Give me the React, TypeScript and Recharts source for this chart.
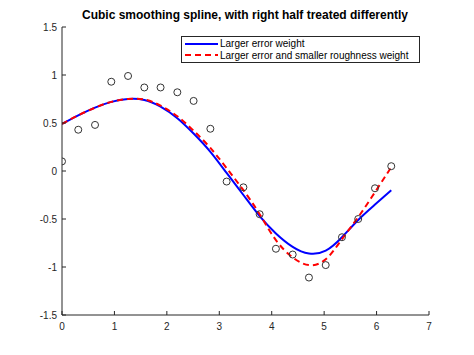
import { ComposedChart, XAxis, YAxis, Scatter, Line } from 'recharts';

// sample positions (0 .. 2*pi in 20 steps)
const sampleX = [0, 0.31, 0.63, 0.94, 1.26, 1.57, 1.88, 2.2, 2.51, 2.83, 3.14, 3.46, 3.77, 4.08, 4.4, 4.71, 5.03, 5.34, 5.65, 5.97, 6.28];
// noisy measurements (circles)
const measured = [0.1, 0.43, 0.48, 0.93, 0.99, 0.87, 0.87, 0.82, 0.73, 0.44, -0.11, -0.17, -0.45, -0.81, -0.87, -1.11, -0.98, -0.69, -0.5, -0.18, 0.05];
// fit with larger error weight (blue)
const errorWeightFit = [0.49, 0.58, 0.66, 0.72, 0.75, 0.74, 0.67, 0.55, 0.39, 0.2, -0.02, -0.25, -0.47, -0.65, -0.79, -0.86, -0.83, -0.69, -0.51, -0.35, -0.2];
// fit with larger error weight and smaller roughness weight (red dashed)
const roughnessFit = [0.49, 0.58, 0.66, 0.72, 0.75, 0.745, 0.68, 0.57, 0.42, 0.24, 0.03, -0.2, -0.45, -0.72, -0.9, -0.98, -0.92, -0.71, -0.48, -0.22, 0.04];

const xTicks = [0, 1, 2, 3, 4, 5, 6, 7];
const yTicks = [-1.5, -1, -0.5, 0, 0.5, 1, 1.5];

const axisColor = '#262626';
const font = '"Liberation Sans", Arial, sans-serif';

const rows = sampleX.map((x, i) => ({
    x,
    measured: measured[i],
    errorWeightFit: errorWeightFit[i],
    roughnessFit: roughnessFit[i]
}));

const XTick = ({ x, y, payload }: any) => (
    <g>
        <line x1={x} x2={x} y1={y} y2={y - 4} stroke={axisColor} />
        <text x={x} y={y + 14.5} textAnchor="middle" fontSize={10} fill={axisColor} fontFamily={font}>
            {payload.value}
        </text>
    </g>
);

const YTick = ({ x, y, payload }: any) => (
    <g>
        <line x1={x} x2={x + 4} y1={y} y2={y} stroke={axisColor} />
        <text x={x - 5} y={y + 3.5} textAnchor="end" fontSize={10} fill={axisColor} fontFamily={font}>
            {payload.value}
        </text>
    </g>
);

const Circle = ({ cx, cy }: any) => (
    <circle cx={cx} cy={cy} r={3.5} fill="none" stroke="#333333" strokeWidth={1} />
);

export default function App() {
    return (
        <div style={{ position: 'relative', width: 474, height: 355, background: '#fff', fontFamily: font }}>
            <style>{'body{margin:0}'}</style>
            <div style={{
                position: 'absolute', top: 8, left: 0, width: 490, textAlign: 'center',
                fontSize: 12, fontWeight: 'bold', color: '#000'
            }}>
                Cubic smoothing spline, with right half treated differently
            </div>
            <ComposedChart
                width={474}
                height={355}
                data={rows}
                margin={{ top: 27, right: 45, bottom: 15, left: 0 }}
            >
                <XAxis
                    dataKey="x"
                    type="number"
                    domain={[0, 7]}
                    ticks={xTicks}
                    interval={0}
                    tickSize={0}
                    tickMargin={0}
                    height={25}
                    stroke={axisColor}
                    tick={<XTick />}
                    allowDataOverflow
                />
                <YAxis
                    type="number"
                    domain={[-1.5, 1.5]}
                    ticks={yTicks}
                    interval={0}
                    tickSize={0}
                    tickMargin={0}
                    width={62}
                    stroke={axisColor}
                    tick={<YTick />}
                    allowDataOverflow
                />
                <Scatter dataKey="measured" shape={<Circle />} isAnimationActive={false} />
                <Line
                    dataKey="errorWeightFit"
                    type="natural"
                    stroke="#0000ff"
                    strokeWidth={2}
                    dot={false}
                    activeDot={false}
                    isAnimationActive={false}
                />
                <Line
                    dataKey="roughnessFit"
                    type="natural"
                    stroke="#ff0000"
                    strokeWidth={2}
                    strokeDasharray="6 4"
                    dot={false}
                    activeDot={false}
                    isAnimationActive={false}
                />
            </ComposedChart>
            <div style={{
                position: 'absolute', left: 181, top: 36, width: 237, height: 25,
                border: `1px solid ${axisColor}`, background: '#fff', fontSize: 10, color: '#000'
            }}>
                {[
                    { label: 'Larger error weight', color: '#0000ff', dash: undefined },
                    { label: 'Larger error and smaller roughness weight', color: '#ff0000', dash: '6 4' }
                ].map((item, i) => (
                    <div key={i} style={{ display: 'flex', alignItems: 'center', height: 11.5, marginTop: i === 0 ? 1 : 0 }}>
                        <svg width={38} height={8} style={{ display: 'block' }}>
                            <line x1={3} x2={36} y1={4} y2={4} stroke={item.color} strokeWidth={2} strokeDasharray={item.dash} />
                        </svg>
                        <span style={{ whiteSpace: 'nowrap', lineHeight: '11px' }}>{item.label}</span>
                    </div>
                ))}
            </div>
        </div>
    );
}
